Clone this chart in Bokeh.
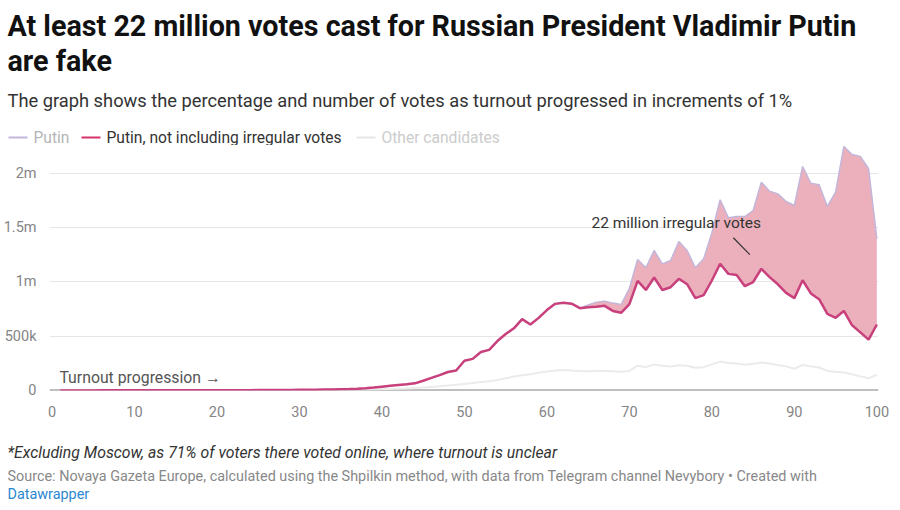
from bokeh.plotting import figure
from bokeh.layouts import column, row
from bokeh.models import Range1d, FixedTicker, Label, Span, ColumnDataSource
from bokeh.embed import file_html
from bokeh.resources import INLINE

# Turnout step (percent) and vote counts in thousands
turnout = list(range(1, 101))

putin_clean_k = [
    0.6, 0.8, 0.9, 1.0, 1.1, 1.2, 1.2, 1.3, 1.4, 1.5,
    1.6, 1.7, 1.8, 1.9, 2.0, 2.1, 2.2, 2.3, 2.4, 2.5,
    2.7, 2.9, 3.1, 3.2, 3.6, 3.9, 4.3, 4.6, 5.2, 5.8,
    6.5, 7.4, 8.6, 10, 12, 14, 17, 21, 27, 35,
    43, 50, 57, 66, 90, 116, 141, 170, 184, 274,
    291, 354, 374, 455, 520, 572, 657, 607, 668, 740,
    797, 808, 799, 757, 765, 770, 779, 732, 715, 794,
    1008, 925, 1040, 925, 950, 1028, 978, 850, 878, 1012,
    1166, 1073, 1063, 960, 998, 1120, 1043, 977, 898, 850,
    1014, 893, 840, 704, 669, 732, 600, 535, 468, 607,
]

putin_total_k = putin_clean_k[:64] + [
    788, 813, 822, 804, 791, 940,
    1205, 1129, 1288, 1165, 1196, 1371, 1288, 1129, 1211, 1450,
    1755, 1590, 1600, 1600, 1656, 1916, 1834, 1809, 1739, 1702,
    2061, 1907, 1892, 1693, 1825, 2245, 2171, 2153, 2040, 1395,
]

others_k = [
    0.2, 0.2, 0.3, 0.3, 0.3, 0.4, 0.4, 0.4, 0.5, 0.5,
    0.5, 0.6, 0.6, 0.7, 0.7, 0.8, 0.8, 0.9, 0.9, 1.0,
    1.1, 1.2, 1.3, 1.4, 1.5, 1.6, 1.8, 2.0, 2.2, 2.4,
    2.7, 3.0, 3.4, 3.9, 4.5, 5.2, 6.0, 7.5, 9, 11,
    13, 16, 19, 23, 28, 33, 38, 45, 52, 60,
    68, 77, 86, 96, 112, 128, 140, 150, 163, 175,
    183, 188, 183, 180, 178, 182, 180, 176, 172, 180,
    228, 215, 238, 228, 220, 232, 228, 210, 215, 240,
    266, 252, 248, 238, 245, 258, 248, 235, 222, 200,
    235, 222, 212, 180, 172, 165, 150, 130, 112, 145,
]

x_ticks = list(range(0, 101, 10))
y_ticks = [0, 500000, 1000000, 1500000, 2000000]
y_tick_labels = ["0", "500k", "1m", "1.5m", "2m"]

legend_names = ["Putin", "Putin, not including irregular votes", "Other candidates"]

FONT = "Roboto"
W = 900
HEAD_H, MAIN_H, FOOT_H = 145, 285, 80
FRAME_H = 245                 # plotting area height inside the main figure
PX_PER_MILLION = 108.7


def text_panel(height):
    """A bare figure whose data space equals its pixel space (y measured from top)."""
    f = figure(width=W, height=height, x_range=Range1d(0, W), y_range=Range1d(height, 0),
               output_backend="svg", toolbar_location=None, min_border=0,
               x_axis_type=None, y_axis_type=None)
    f.outline_line_color = None
    f.grid.visible = False
    return f


def put_text(f, x, y, text, size, color, style="normal"):
    f.add_layout(Label(x=x, y=y, text=text, text_font=FONT, text_font_size=size,
                       text_color=color, text_font_style=style, text_baseline="middle"))


# ---- heading + legend ----
head = text_panel(HEAD_H)
put_text(head, 7, 25, "At least 22 million votes cast for Russian President Vladimir Putin",
         "28.7px", "#111111", "bold")
put_text(head, 7, 60, "are fake", "28.7px", "#111111", "bold")
put_text(head, 7, 100, "The graph shows the percentage and number of votes as turnout "
         "progressed in increments of 1%", "18.3px", "#333333")

legend_y = 137
legend_specs = [(8, "#c4b6da", "#b5b5b5"), (81, "#d6336c", "#333333"), (356, "#e6e6e6", "#cccccc")]
for name, (lx, swatch, txt_color) in zip(legend_names, legend_specs):
    head.segment(x0=lx, y0=legend_y, x1=lx + 19, y1=legend_y, line_color=swatch, line_width=2)
    put_text(head, lx + 25, legend_y, name, "15.6px", txt_color)

# ---- chart ----
src = ColumnDataSource(dict(
    t=turnout,
    clean=[v * 1000 for v in putin_clean_k],
    total=[v * 1000 for v in putin_total_k],
    others=[v * 1000 for v in others_k],
))

p = figure(width=W, height=MAIN_H,
           x_range=Range1d(-0.3, 100.2),
           y_range=Range1d(0, FRAME_H / PX_PER_MILLION * 1e6),
           output_backend="svg", toolbar_location=None,
           min_border_left=49, min_border_right=22,
           min_border_top=0, min_border_bottom=MAIN_H - FRAME_H)
p.outline_line_color = None

p.xgrid.grid_line_color = None
p.ygrid.grid_line_color = "#e6e6e6"
p.ygrid.ticker = FixedTicker(ticks=y_ticks[1:])

for ax in (p.xaxis, p.yaxis):
    ax.axis_line_color = None
    ax.major_tick_line_color = None
    ax.minor_tick_line_color = None
    ax.major_label_text_color = "#858585"
    ax.major_label_text_font = FONT
    ax.major_label_text_font_size = "14.5px"
p.xaxis.ticker = FixedTicker(ticks=x_ticks)
p.xaxis.major_label_standoff = 9
p.yaxis.ticker = FixedTicker(ticks=y_ticks)
p.yaxis.major_label_overrides = dict(zip(y_ticks, y_tick_labels))
p.yaxis.major_label_standoff = 7

p.add_layout(Span(location=0, dimension="width", line_color="#808080",
                  line_width=2, level="underlay"))

p.varea(x="t", y1="clean", y2="total", source=src, fill_color="#ebb0bc")
p.line("t", "others", source=src, line_color="#ebebeb", line_width=2)
p.line("t", "total", source=src, line_color="#c4b6da", line_width=1.5)
p.line("t", "clean", source=src, line_color="#c8407c", line_width=2.5)

# callout for the shaded gap
p.segment(x0=82.6, y0=1.405e6, x1=84.6, y1=1.25e6, line_color="#333333", line_width=1.2)
p.add_layout(Label(x=65.4, y=1.545e6, text="22 million irregular votes",
                   text_font=FONT, text_font_size="15.5px", text_color="#333333",
                   text_baseline="middle"))
p.add_layout(Label(x=0.9, y=0.12e6, text="Turnout progression \u2192",
                   text_font=FONT, text_font_size="15.8px", text_color="#555555",
                   text_baseline="middle"))

# ---- notes ----
foot = text_panel(FOOT_H)
put_text(foot, 7, 22, "*Excluding Moscow, as 71% of voters there voted online, "
         "where turnout is unclear", "15.8px", "#333333", "italic")
put_text(foot, 7, 46, "Source: Novaya Gazeta Europe, calculated using the Shpilkin method, "
         "with data from Telegram channel Nevybory \u2022 Created with", "14.4px", "#888888")
put_text(foot, 7, 64, "Datawrapper", "14.4px", "#2a87d0")

# the chart sits in its own row so the text panels keep full-width frames
layout = column(head, row(p), foot, spacing=0)
open("out.html", "w").write(file_html(layout, INLINE))
